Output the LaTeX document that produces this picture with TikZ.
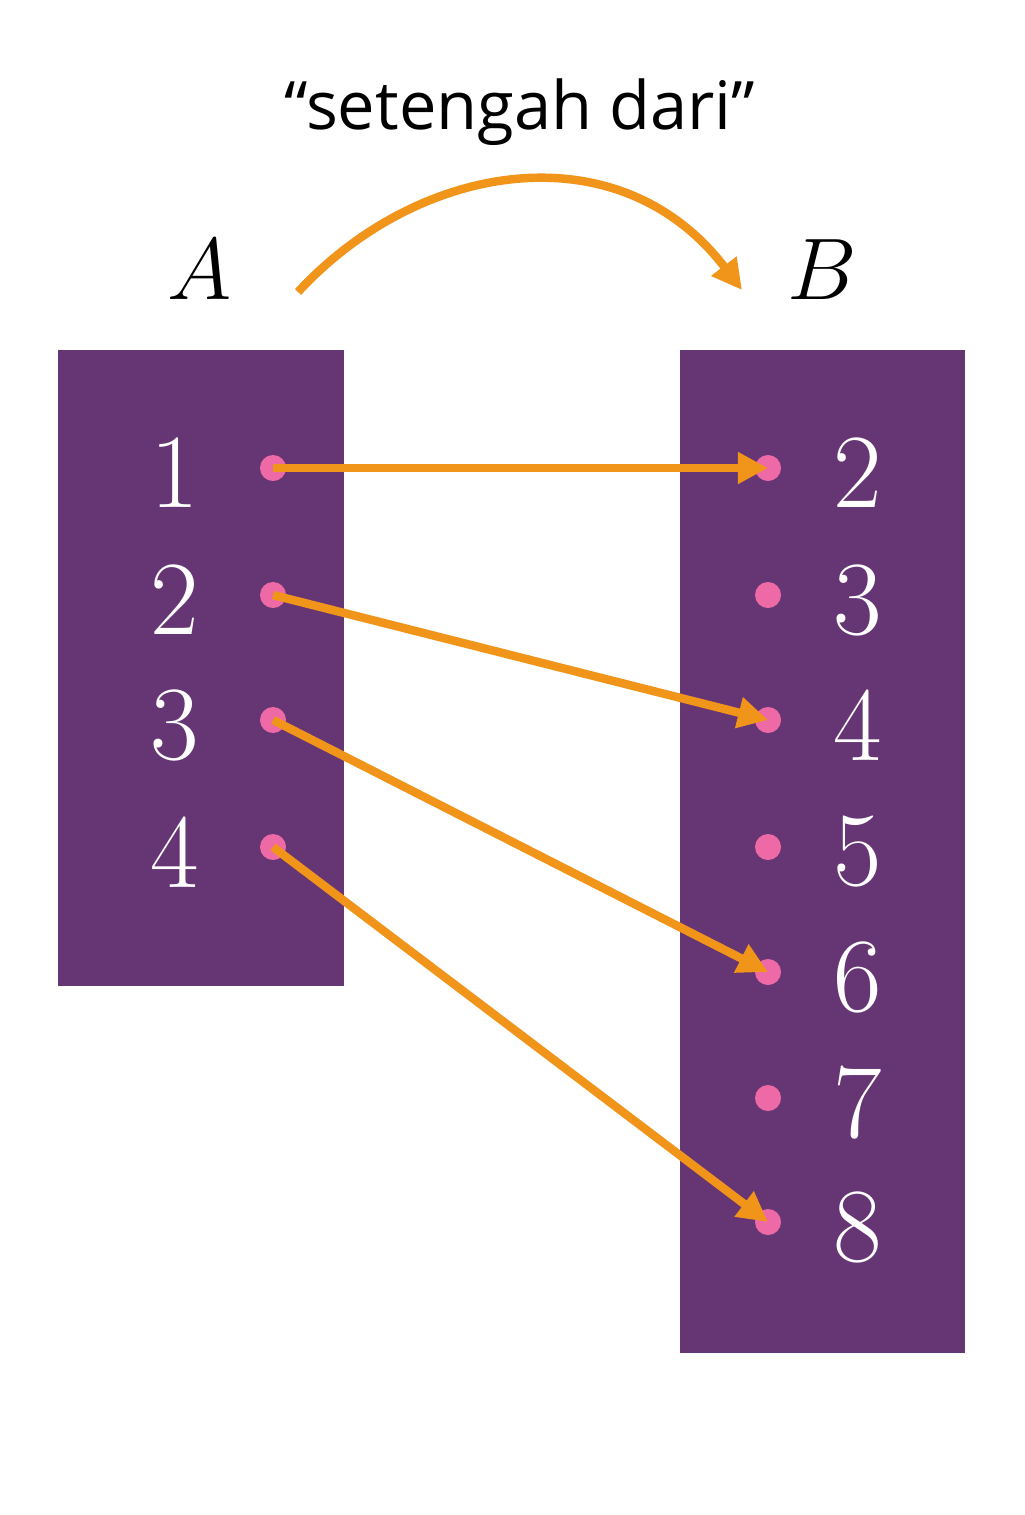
\documentclass[tikz,border=0pt]{standalone}
\usepackage{fontspec}
\newfontfamily\labelfont{Open Sans}
\usetikzlibrary{arrows.meta, positioning}
\definecolor{setpurple}{HTML}{663574}
\definecolor{maporange}{HTML}{F0941A}
\definecolor{dotpink}{HTML}{EE6AA7}
\begin{document}
\begin{tikzpicture}[
						x=0.01cm, y=-0.01cm,
						setbox/.style = {fill=setpurple, inner sep=0pt},
						dot/.style = {circle, fill=dotpink, inner sep=0pt, minimum size=0.26cm},
						num/.style = {text=white, font=\fontsize{30}{30}\selectfont},
						maparrow/.style = {draw=maporange, line width=2.4pt, -{Triangle[length=0.3cm, width=0.3cm]}}
					]
\useasboundingbox (0,0) rectangle (1024,1515);
\fill[setpurple] (58,350) rectangle (344,986);
\fill[setpurple] (680,350) rectangle (965,1353);
\node (A) at (200,270) {\fontsize{44}{44}\selectfont$A$};
\node (B) at (822,270) {\fontsize{44}{44}\selectfont$B$};
\node (title) at (520,112) {\labelfont\fontsize{19}{19}\selectfont “setengah dari”};
\coordinate (arcstart) at (298,292);
\coordinate (arcend) at (742,290);
% left set
\foreach \n/\y in {1/468, 2/595, 3/720, 4/847}{
  \node[dot] (a\n) at (273,\y) {};
  \node[num] at (175,\y+5) {\n};
}
% right set
\foreach \n/\y in {2/468, 3/595, 4/720, 5/847, 6/972, 7/1098, 8/1222}{
  \node[dot] (b\n) at (768,\y) {};
  \node[num] at (858,\y+5) {\n};
}
\draw[maparrow] (arcstart) .. controls (420,160) and (620,130) .. (arcend);
\draw[maparrow] (a1.center) -- (b2.center);
\draw[maparrow] (a2.center) -- (b4.center);
\draw[maparrow] (a3.center) -- (b6.center);
\draw[maparrow] (a4.center) -- (b8.center);
\end{tikzpicture}
\end{document}
